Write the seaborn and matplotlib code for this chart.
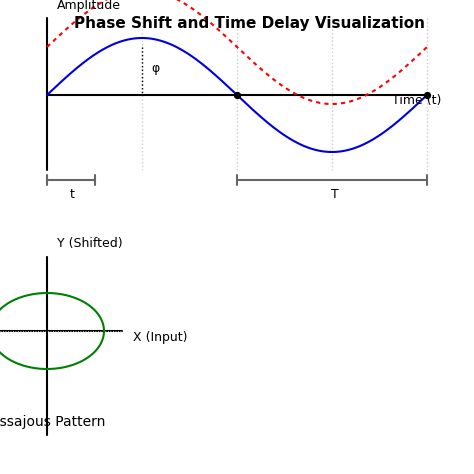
import numpy as np
import pandas as pd
import matplotlib
matplotlib.use("Agg")
import matplotlib.pyplot as plt
import seaborn as sns

sns.set_style("white")
plt.rcParams["text.color"] = "black"

# diagram geometry in pixel units (y grows downward)
x0, period, axis_y, amp = 47, 380, 95, 57
red_offset = 48
grid_x = [142, 237, 332, 427]
lis_center = (47, 331)
lis_rx, lis_ry = 57, 38

fig = plt.figure(figsize=(4.74, 4.74), dpi=100)
ax = fig.add_axes([0, 0, 1, 1])

xs = np.linspace(x0, x0 + period, 400)
phase = 2 * np.pi * (xs - x0) / period
waves = pd.DataFrame({"x": xs,
                      "blue": axis_y - amp * np.sin(phase),
                      "red": axis_y - red_offset - amp * np.sin(phase)})

for gx in grid_x:
    ax.plot([gx, gx], [18, 170], color="#cccccc", lw=1, ls=":")
ax.plot([x0, x0], [18, 170], color="black", lw=1.5)
ax.plot([x0, x0 + period], [axis_y, axis_y], color="black", lw=1.5)
ax.plot([142, 142], [47, axis_y], color="black", lw=1, ls=":")

sns.lineplot(data=waves, x="x", y="blue", ax=ax, color="#0000dd", lw=1.5,
             sort=False, estimator=None)
sns.lineplot(data=waves, x="x", y="red", ax=ax, color="red", lw=1.5,
             ls=(0, (2, 2)), sort=False, estimator=None)
ax.scatter([237, 427], [axis_y, axis_y], color="black", s=18, zorder=5)

ax.text(57, 5, "Amplitude", fontsize=9, va="center")
ax.text(250, 23, "Phase Shift and Time Delay Visualization", fontsize=11,
        fontweight="bold", ha="center", va="center")
ax.text(151, 68, "φ", fontsize=9, va="center")
ax.text(392, 100, "Time (t)", fontsize=9, va="center")

# brackets
for a, b, lab in [(47, 95, "t"), (237, 427, "T")]:
    ax.plot([a, b], [180, 180], color="#666666", lw=1.5)
    ax.plot([a, a], [175, 185], color="#666666", lw=1.5)
    ax.plot([b, b], [175, 185], color="#666666", lw=1.5)
    ax.text((a + b) / 2 + (3 if lab == "T" else 1), 195, lab, fontsize=9,
            ha="center", va="center")

# Lissajous
cx, cy = lis_center
th = np.linspace(0, 2 * np.pi, 300)
lis = pd.DataFrame({"x": cx + lis_rx * np.cos(th), "y": cy + lis_ry * np.sin(th)})
ax.plot([0, 122], [cy, cy], color="black", lw=1.5)
ax.plot([0, 122], [cy, cy], color="white", lw=0.6, ls=(0, (1, 2)))
ax.plot([cx, cx], [257, 435], color="black", lw=1.5)
sns.lineplot(data=lis, x="x", y="y", ax=ax, color="green", lw=1.5,
             sort=False, estimator=None)
ax.text(57, 243, "Y (Shifted)", fontsize=9, va="center")
ax.text(133, 337, "X (Input)", fontsize=9, va="center")
ax.text(47, 422, "Lissajous Pattern", fontsize=10, ha="center", va="center")

ax.set_xlim(0, 474)
ax.set_ylim(474, 0)
ax.axis("off")
fig.savefig("out.png", dpi=100)
